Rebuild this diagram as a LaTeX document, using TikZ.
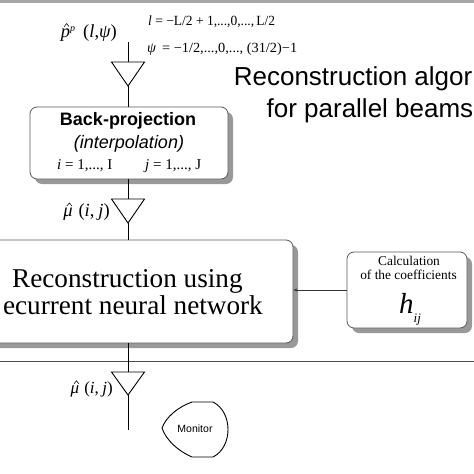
\documentclass[tikz,border=0pt]{standalone}
\usepackage{graphicx}
\usepackage{fontspec}
\setmainfont{Liberation Serif}
\setsansfont{Liberation Sans}
\usetikzlibrary{shadows,arrows.meta}
\tikzset{
 panel/.style={draw=black!65, line width=0.8pt, fill=white, rounded corners=7pt, inner sep=0pt,
   general shadow={fill=black!40, shadow xshift=5pt, shadow yshift=-5pt}},
 wire/.style={black, line width=0.9pt},
 tri/.style={draw=black, line width=0.9pt, fill=white, line join=miter},
 sepline/.style={draw=black!70, line width=0.9pt},
 lbl/.style={inner sep=0pt},
 hatmark/.style={black, line width=0.55pt, line join=miter},
}
\begin{document}
\begin{tikzpicture}[x=1pt,y=-1pt]
\useasboundingbox (0,0) rectangle (474,474);
\clip (0,0) rectangle (474,474);
\fill[black!35] (0,0) rectangle (474,3);

% separator line
\coordinate (sL) at (0,361);
\coordinate (sR) at (474,361);
\draw[sepline] (sL) -- (sR);

% boxes
\node[panel, minimum width=198pt, minimum height=72pt] (bp) at (129,143) {};
\node[panel, minimum width=330pt, minimum height=103pt] (rec) at (128,291.5) {};
\node[panel, minimum width=120pt, minimum height=76pt] (calc) at (407,290) {};

% triangle coordinates
\coordinate (src) at (128,42);
\coordinate (t1t) at (128,62);  \coordinate (t1b) at (128,86);
\coordinate (t2t) at (128,199); \coordinate (t2b) at (128,223);
\coordinate (t3t) at (128,372); \coordinate (t3b) at (128,395);
\coordinate (dst) at (128,430);

% connectors
\draw[wire] (src) -- (t1t);
\draw[wire] (t1b) -- (t1b |- bp.north);
\draw[wire] (t2t |- bp.south) -- (t2t);
\draw[wire] (t2b) -- (t2b |- rec.north);
\draw[wire] (t3t |- rec.south) -- (t3t);
\draw[wire] (t3b) -- (dst);
\draw[black!80, line width=0.8pt, -{Stealth[length=4pt,width=3pt]}] (calc.west) -- (calc.west -| rec.east);

% triangles
\draw[tri] ([xshift=-16.5pt]t1t) -- ([xshift=16.5pt]t1t) -- (t1b) -- cycle;
\draw[tri] ([xshift=-16.5pt]t2t) -- ([xshift=16.5pt]t2t) -- (t2b) -- cycle;
\draw[tri] ([xshift=-16.5pt]t3t) -- ([xshift=16.5pt]t3t) -- (t3b) -- cycle;

% monitor
\draw[black, line width=0.9pt] (192,402) -- (213,402)
  .. controls (233,412) and (233,447) .. (213,457) -- (192,457)
  .. controls (178,451) and (166,440) .. (162,428)
  .. controls (166,417) and (178,407) .. (192,402) -- cycle;
\node[lbl, font=\sffamily\fontsize{10.5}{12}\selectfont] (mon) at (195,429) {Monitor};

% labels
\node[lbl, anchor=base east, font=\fontsize{18.5}{20}\selectfont] (pp) at (117,37)
  {{\itshape p}\raisebox{6pt}{\fontsize{10}{11}\selectfont\itshape p}\hspace{8pt}({\itshape l},{\itshape ψ})};
\draw[hatmark, shift={(pp.base west)}] (3.5,-10.4) -- (5.9,-13.5) -- (8.3,-10.4);

\node[lbl, anchor=base west, font=\fontsize{14}{16}\selectfont] (eqa) at (148,25)
  {\resizebox{127pt}{\height}{{\itshape l} = −L/2 + 1,...,0,...,\,L/2}};
\node[lbl, anchor=base west, font=\fontsize{14}{16}\selectfont] (eqb) at (147,52)
  {\resizebox{150pt}{\height}{{\itshape ψ}\, = −1/2,...,0,..., (31/2)−1}};

\node[lbl, anchor=base east, font=\sffamily\fontsize{26}{28}\selectfont] (ttl1) at (472.5,85) {Reconstruction algor};
\node[lbl, anchor=base east, font=\sffamily\fontsize{26}{28}\selectfont] (ttl2) at (473.5,117) {for parallel beams};

\node[lbl, anchor=base, font=\sffamily\bfseries\fontsize{18}{20}\selectfont] (bpa) at (128,125.5) {Back-projection};
\node[lbl, anchor=base, font=\sffamily\itshape\fontsize{18}{20}\selectfont] (bpb) at (129,148) {(interpolation)};
\node[lbl, anchor=base west, font=\fontsize{15}{17}\selectfont] (bpc) at (57,169) {{\itshape i} = 1,..., I};
\node[lbl, anchor=base west, font=\fontsize{15}{17}\selectfont] (bpd) at (145,169) {{\itshape j} = 1,..., J};

\node[lbl, anchor=base east, font=\fontsize{18.5}{20}\selectfont] (mu1) at (110,216.5)
  {{\itshape μ}\hspace{6pt}({\itshape i},\hspace{4pt}{\itshape j})};
\draw[hatmark, shift={(mu1.base west)}] (3.8,-10.5) -- (6.3,-13.6) -- (8.8,-10.5);
\node[lbl, anchor=base east, font=\fontsize{17}{19}\selectfont] (mu2) at (113,393.5)
  {{\itshape μ}\hspace{5pt}({\itshape i},\hspace{3.5pt}{\itshape j})};
\draw[hatmark, shift={(mu2.base west)}] (3.5,-9.8) -- (5.9,-12.7) -- (8.3,-9.8);

\node[lbl, anchor=base west, font=\rmfamily\fontsize{27.2}{29}\selectfont] (ra) at (12,287) {Reconstruction using};
\node[lbl, anchor=base east, font=\rmfamily\fontsize{27.2}{29}\selectfont] (rb) at (263,314) {ecurrent neural network};

\node[lbl, anchor=base, font=\fontsize{13.4}{15}\selectfont] (ca) at (409,265) {Calculation};
\node[lbl, anchor=base, font=\fontsize{13.4}{15}\selectfont] (cb) at (408.5,279) {of the coefficients};
\node[lbl, anchor=base west, font=\fontsize{29}{31}\selectfont] (ch) at (399,313)
  {{\itshape h}\raisebox{-9pt}{\fontsize{13}{14}\selectfont\itshape ij}};
\end{tikzpicture}
\end{document}
